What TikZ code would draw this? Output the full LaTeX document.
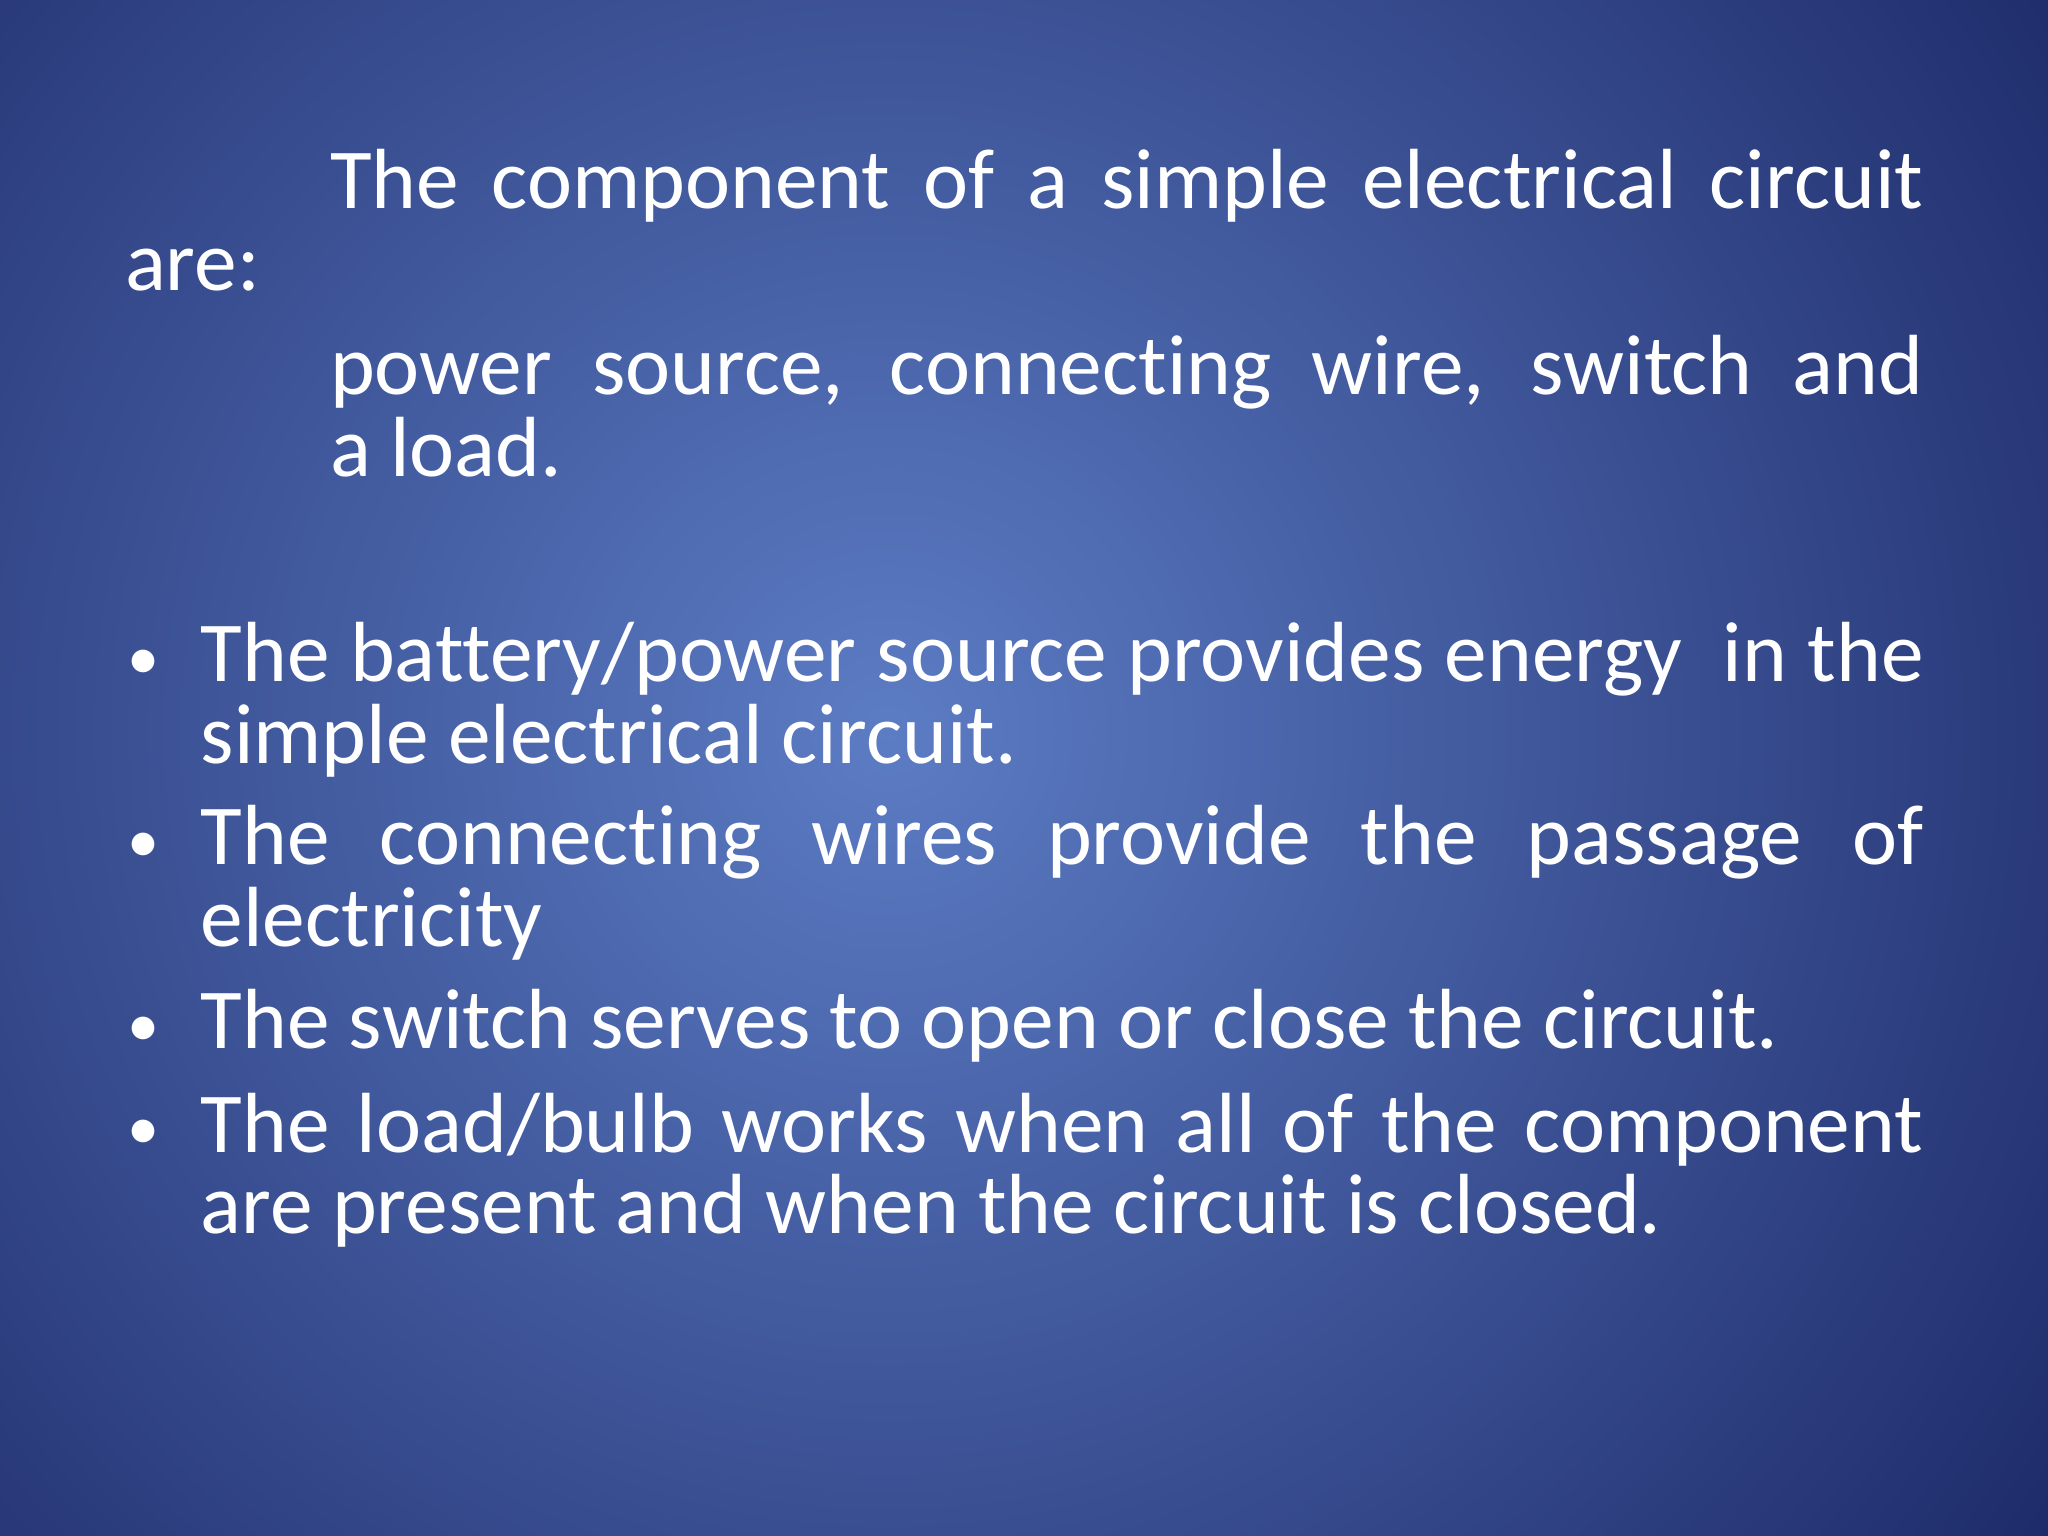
\documentclass[tikz,border=0pt]{standalone}
\usepackage{fontspec}
\setmainfont{Carlito}[Ligatures={NoCommon}]
\definecolor{slideinner}{RGB}{92,124,196}
\definecolor{slideouter}{RGB}{26,38,100}
\begin{document}
\begin{tikzpicture}[x=1cm,y=-1cm,
  slide text/.style={anchor=base west,inner sep=0pt,text=white,align=justify,
    font=\fontsize{18.6}{17.8}\selectfont},
  dot/.style={anchor=base west,inner sep=0pt,text=white,font=\fontsize{14}{14}\selectfont}]
\useasboundingbox (0,0) rectangle (15.68,11.76);
\begin{scope}
\clip (0,0) rectangle (15.68,11.76);
\shade[inner color=slideinner,outer color=slideouter] (6.8,5.6) circle (11.5);
\end{scope}
\node[slide text,text width=13.77cm] (intro) at (0.95,1.60)
  {\hspace*{1.57cm}The component of a simple electrical circuit are:};
\node[slide text,text width=12.20cm] (parts) at (2.52,3.02)
  {power source, connecting wire, switch and\linebreak a load.};
\foreach \y/\txt [count=\i] in {
  5.22/{The battery/power source provides energy\ \ in the simple electrical circuit.},
  6.62/{The connecting wires provide the passage of\linebreak electricity},
  8.03/{The switch serves to open or close the circuit.},
  8.82/{The load/bulb works when all of the component are present and when the circuit is closed.}}{
  \node[dot] (dot\i) at (0.97,\y-0.02) {•};
  \node[slide text,text width=13.19cm] (item\i) at (1.53,\y) {\txt};
}
\end{tikzpicture}
\end{document}
